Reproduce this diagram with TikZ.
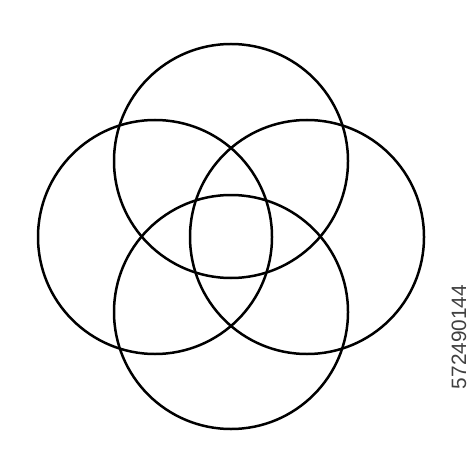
\documentclass[tikz,border=0pt]{standalone}
\usepackage{fontspec}
\setsansfont{Liberation Sans}
\begin{document}
\begin{tikzpicture}[x=0.0211cm, y=-0.0211cm]
  % frame
  \useasboundingbox (0,0) rectangle (474,474);

  % four circles
  \foreach \cx/\cy in {231/161, 155/237, 307/237, 231/312}
    \draw[line width=1.5pt] (\cx, \cy) circle (117);

  % stock id
  \node[rotate=90, font=\sffamily\fontsize{12.5}{12.5}\selectfont, text=black!75] (stockid) at (459, 337){572490144};
\end{tikzpicture}
\end{document}
